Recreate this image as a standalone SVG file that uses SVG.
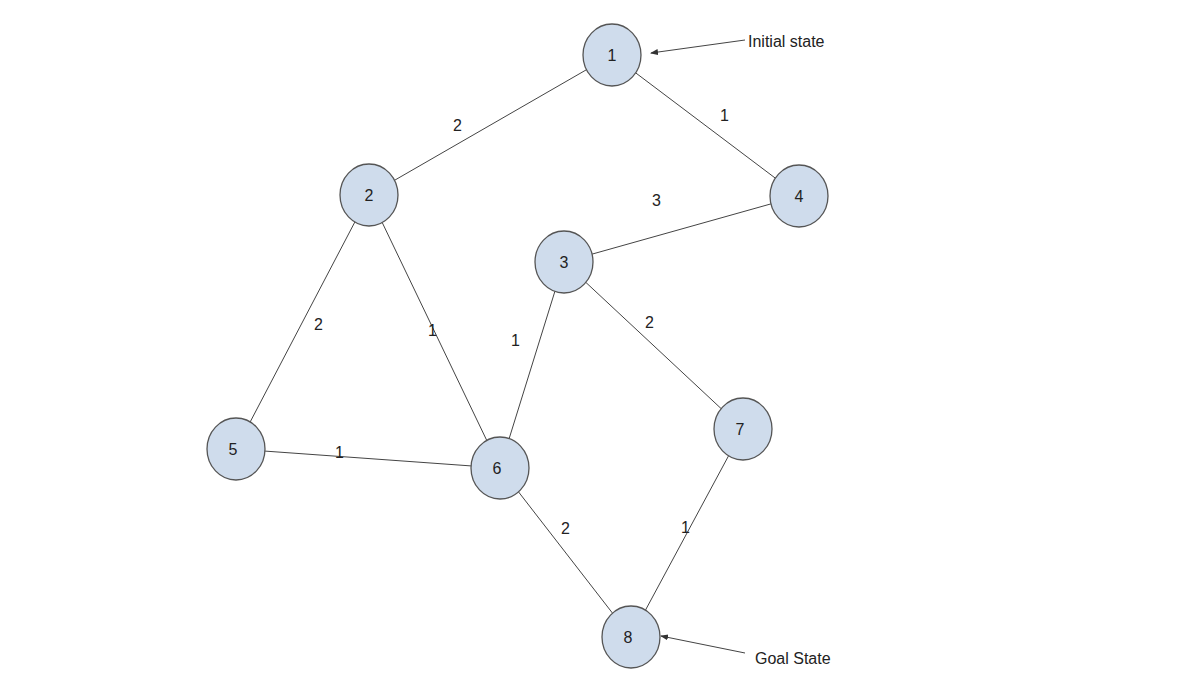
<svg xmlns="http://www.w3.org/2000/svg" width="1178" height="698" viewBox="0 0 1178 698">
<defs>
<style>
.n ellipse{fill:#cfdcec;stroke:#555;stroke-width:1.3}
text{font-family:Arial,"Liberation Sans",sans-serif;font-size:16px;fill:#222}
.n text{text-anchor:middle}
#edges line{stroke:#444;stroke-width:1}
</style>
<marker id="ah" markerWidth="8" markerHeight="8" refX="7" refY="4" orient="auto" markerUnits="userSpaceOnUse"><path d="M0,1 L8,4 L0,7 z" fill="#333"/></marker>
</defs>
<rect width="1178" height="698" fill="#fff"/>
<g id="edges">
<line x1="612" y1="55" x2="369" y2="195"/>
<line x1="612" y1="55" x2="799" y2="196"/>
<line x1="799" y1="196" x2="564" y2="262"/>
<line x1="369" y1="195" x2="236" y2="449"/>
<line x1="369" y1="195" x2="500" y2="468"/>
<line x1="564" y1="262" x2="500" y2="468"/>
<line x1="564" y1="262" x2="743" y2="429"/>
<line x1="236" y1="449" x2="500" y2="468"/>
<line x1="500" y1="468" x2="631" y2="637"/>
<line x1="743" y1="429" x2="631" y2="637"/>
<line x1="745" y1="40" x2="651" y2="53" marker-end="url(#ah)"/>
<line x1="745" y1="653" x2="661" y2="636" marker-end="url(#ah)"/>
<text x="453" y="131">2</text><text x="720" y="121">1</text><text x="652" y="206">3</text>
<text x="314" y="330">2</text><text x="428" y="336">1</text><text x="511" y="346">1</text>
<text x="645" y="328">2</text><text x="335" y="458">1</text><text x="561" y="534">2</text>
<text x="681" y="533">1</text>
<text x="748" y="47">Initial state</text><text x="755" y="664">Goal State</text>
</g>
<g id="n1" class="n"><ellipse cx="612" cy="55" rx="29" ry="31"/><text x="612" y="61">1</text></g>
<g id="n2" class="n"><ellipse cx="369" cy="195" rx="29" ry="31"/><text x="369" y="201">2</text></g>
<g id="n3" class="n"><ellipse cx="564" cy="262" rx="29" ry="31"/><text x="564" y="268">3</text></g>
<g id="n4" class="n"><ellipse cx="799" cy="196" rx="29" ry="31"/><text x="799" y="202">4</text></g>
<g id="n5" class="n"><ellipse cx="236" cy="449" rx="29" ry="31"/><text x="233" y="455">5</text></g>
<g id="n6" class="n"><ellipse cx="500" cy="468" rx="29" ry="31"/><text x="497" y="474">6</text></g>
<g id="n7" class="n"><ellipse cx="743" cy="429" rx="29" ry="31"/><text x="740" y="435">7</text></g>
<g id="n8" class="n"><ellipse cx="631" cy="637" rx="29" ry="31"/><text x="628" y="643">8</text></g>
</svg>
